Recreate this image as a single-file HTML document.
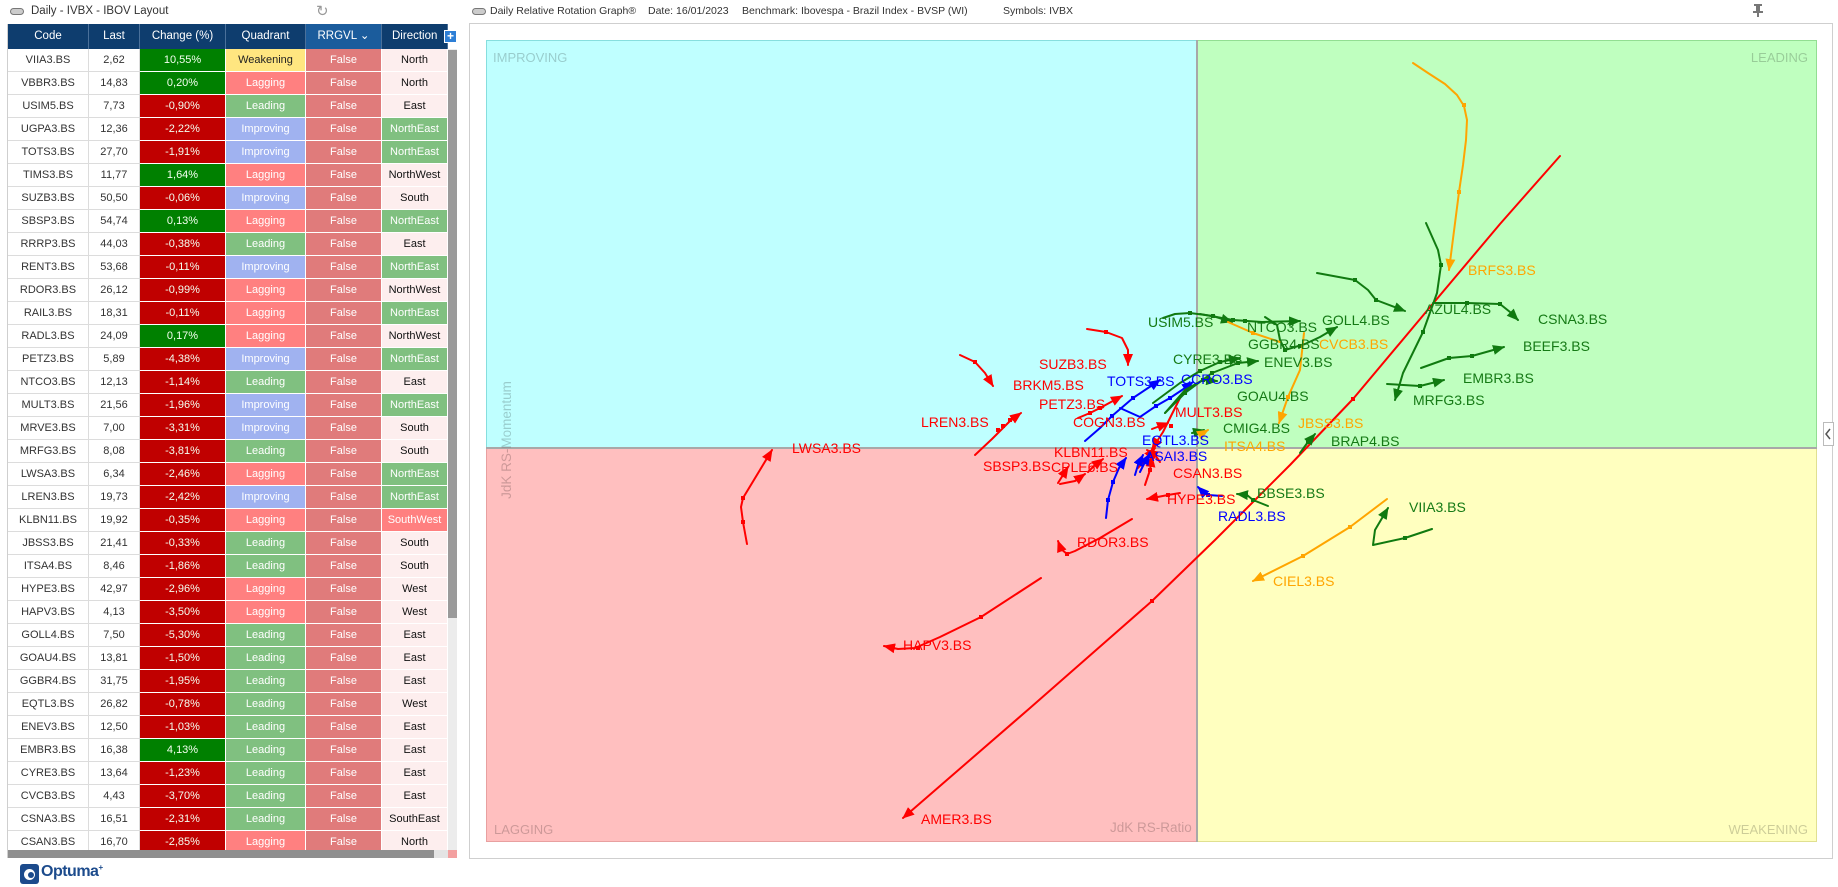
<!DOCTYPE html>
<html><head><meta charset="utf-8">
<style>
html,body{margin:0;padding:0;}
body{width:1838px;height:887px;position:relative;overflow:hidden;background:#fff;font-family:"Liberation Sans",sans-serif;color:#333;}
.abs{position:absolute;}
#tbl{position:absolute;left:7px;top:24px;width:450px;height:834px;overflow:hidden;background:#fff;border-left:1px solid #cfcfcf;box-sizing:border-box;}
.r{position:absolute;left:0;height:23px;display:flex;}
.c{box-sizing:border-box;height:23px;line-height:22px;text-align:center;font-size:11px;border-right:1px solid #fff;border-bottom:1px solid #fff;white-space:nowrap;overflow:hidden;flex:none;}
.a{width:81px;background:#fff;color:#333;border-right:1px solid #dcdcdc;border-bottom:1px solid #dcdcdc;}
.b{width:51px;background:#fff;color:#333;border-right:1px solid #dcdcdc;border-bottom:1px solid #dcdcdc;}
.x{width:86px;color:#f4fff0;}
.g{background:#008000;}
.n{background:#c00000;}
.q{width:80px;color:#fff;}
.qw{background:#ffe680;color:#222;}
.ql{background:#ff8080;}
.qd{background:#80c080;}
.qi{background:#a0b2f0;}
.f{width:76px;background:#e07b7b;color:#fff;}
.d{width:66px;background:#fdeeee;color:#111;}
.ne{background:#80c080;color:#fff;}
.sw{background:#ff8080;color:#fff;}
.h .c{height:25px;line-height:25px;background:#0e3d6e;color:#fff;border-right:1px solid #4a709a;border-bottom:none;font-size:11.5px;}
.h .rv{background:#1b5c9c;}
</style></head>
<body>

<!-- left panel title -->
<div class="abs" style="left:10px;top:8px;width:14px;height:7px;border:1px solid #777;border-radius:4px;background:#ccc;box-sizing:border-box;"></div>
<div class="abs" style="left:31px;top:5px;font-size:11.5px;color:#333;">Daily - IVBX - IBOV Layout</div>
<div class="abs" style="left:316px;top:2px;font-size:15px;color:#999;">↻</div>

<div id="tbl">
<div class="r h" style="top:0;height:25px;"><div class="c a">Code</div><div class="c b">Last</div><div class="c x">Change (%)</div><div class="c q">Quadrant</div><div class="c f rv">RRGVL &#8964;</div><div class="c d" style="text-align:left;padding-left:10px;">Direction</div></div>
<div class="r" style="top:25px"><div class="c a">VIIA3.BS</div><div class="c b">2,62</div><div class="c x g">10,55%</div><div class="c q qw">Weakening</div><div class="c f">False</div><div class="c d">North</div></div>
<div class="r" style="top:48px"><div class="c a">VBBR3.BS</div><div class="c b">14,83</div><div class="c x g">0,20%</div><div class="c q ql">Lagging</div><div class="c f">False</div><div class="c d">North</div></div>
<div class="r" style="top:71px"><div class="c a">USIM5.BS</div><div class="c b">7,73</div><div class="c x n">-0,90%</div><div class="c q qd">Leading</div><div class="c f">False</div><div class="c d">East</div></div>
<div class="r" style="top:94px"><div class="c a">UGPA3.BS</div><div class="c b">12,36</div><div class="c x n">-2,22%</div><div class="c q qi">Improving</div><div class="c f">False</div><div class="c d ne">NorthEast</div></div>
<div class="r" style="top:117px"><div class="c a">TOTS3.BS</div><div class="c b">27,70</div><div class="c x n">-1,91%</div><div class="c q qi">Improving</div><div class="c f">False</div><div class="c d ne">NorthEast</div></div>
<div class="r" style="top:140px"><div class="c a">TIMS3.BS</div><div class="c b">11,77</div><div class="c x g">1,64%</div><div class="c q ql">Lagging</div><div class="c f">False</div><div class="c d">NorthWest</div></div>
<div class="r" style="top:163px"><div class="c a">SUZB3.BS</div><div class="c b">50,50</div><div class="c x n">-0,06%</div><div class="c q qi">Improving</div><div class="c f">False</div><div class="c d">South</div></div>
<div class="r" style="top:186px"><div class="c a">SBSP3.BS</div><div class="c b">54,74</div><div class="c x g">0,13%</div><div class="c q ql">Lagging</div><div class="c f">False</div><div class="c d ne">NorthEast</div></div>
<div class="r" style="top:209px"><div class="c a">RRRP3.BS</div><div class="c b">44,03</div><div class="c x n">-0,38%</div><div class="c q qd">Leading</div><div class="c f">False</div><div class="c d">East</div></div>
<div class="r" style="top:232px"><div class="c a">RENT3.BS</div><div class="c b">53,68</div><div class="c x n">-0,11%</div><div class="c q qi">Improving</div><div class="c f">False</div><div class="c d ne">NorthEast</div></div>
<div class="r" style="top:255px"><div class="c a">RDOR3.BS</div><div class="c b">26,12</div><div class="c x n">-0,99%</div><div class="c q ql">Lagging</div><div class="c f">False</div><div class="c d">NorthWest</div></div>
<div class="r" style="top:278px"><div class="c a">RAIL3.BS</div><div class="c b">18,31</div><div class="c x n">-0,11%</div><div class="c q ql">Lagging</div><div class="c f">False</div><div class="c d ne">NorthEast</div></div>
<div class="r" style="top:301px"><div class="c a">RADL3.BS</div><div class="c b">24,09</div><div class="c x g">0,17%</div><div class="c q ql">Lagging</div><div class="c f">False</div><div class="c d">NorthWest</div></div>
<div class="r" style="top:324px"><div class="c a">PETZ3.BS</div><div class="c b">5,89</div><div class="c x n">-4,38%</div><div class="c q qi">Improving</div><div class="c f">False</div><div class="c d ne">NorthEast</div></div>
<div class="r" style="top:347px"><div class="c a">NTCO3.BS</div><div class="c b">12,13</div><div class="c x n">-1,14%</div><div class="c q qd">Leading</div><div class="c f">False</div><div class="c d">East</div></div>
<div class="r" style="top:370px"><div class="c a">MULT3.BS</div><div class="c b">21,56</div><div class="c x n">-1,96%</div><div class="c q qi">Improving</div><div class="c f">False</div><div class="c d ne">NorthEast</div></div>
<div class="r" style="top:393px"><div class="c a">MRVE3.BS</div><div class="c b">7,00</div><div class="c x n">-3,31%</div><div class="c q qi">Improving</div><div class="c f">False</div><div class="c d">South</div></div>
<div class="r" style="top:416px"><div class="c a">MRFG3.BS</div><div class="c b">8,08</div><div class="c x n">-3,81%</div><div class="c q qd">Leading</div><div class="c f">False</div><div class="c d">South</div></div>
<div class="r" style="top:439px"><div class="c a">LWSA3.BS</div><div class="c b">6,34</div><div class="c x n">-2,46%</div><div class="c q ql">Lagging</div><div class="c f">False</div><div class="c d ne">NorthEast</div></div>
<div class="r" style="top:462px"><div class="c a">LREN3.BS</div><div class="c b">19,73</div><div class="c x n">-2,42%</div><div class="c q qi">Improving</div><div class="c f">False</div><div class="c d ne">NorthEast</div></div>
<div class="r" style="top:485px"><div class="c a">KLBN11.BS</div><div class="c b">19,92</div><div class="c x n">-0,35%</div><div class="c q ql">Lagging</div><div class="c f">False</div><div class="c d sw">SouthWest</div></div>
<div class="r" style="top:508px"><div class="c a">JBSS3.BS</div><div class="c b">21,41</div><div class="c x n">-0,33%</div><div class="c q qd">Leading</div><div class="c f">False</div><div class="c d">South</div></div>
<div class="r" style="top:531px"><div class="c a">ITSA4.BS</div><div class="c b">8,46</div><div class="c x n">-1,86%</div><div class="c q qd">Leading</div><div class="c f">False</div><div class="c d">South</div></div>
<div class="r" style="top:554px"><div class="c a">HYPE3.BS</div><div class="c b">42,97</div><div class="c x n">-2,96%</div><div class="c q ql">Lagging</div><div class="c f">False</div><div class="c d">West</div></div>
<div class="r" style="top:577px"><div class="c a">HAPV3.BS</div><div class="c b">4,13</div><div class="c x n">-3,50%</div><div class="c q ql">Lagging</div><div class="c f">False</div><div class="c d">West</div></div>
<div class="r" style="top:600px"><div class="c a">GOLL4.BS</div><div class="c b">7,50</div><div class="c x n">-5,30%</div><div class="c q qd">Leading</div><div class="c f">False</div><div class="c d">East</div></div>
<div class="r" style="top:623px"><div class="c a">GOAU4.BS</div><div class="c b">13,81</div><div class="c x n">-1,50%</div><div class="c q qd">Leading</div><div class="c f">False</div><div class="c d">East</div></div>
<div class="r" style="top:646px"><div class="c a">GGBR4.BS</div><div class="c b">31,75</div><div class="c x n">-1,95%</div><div class="c q qd">Leading</div><div class="c f">False</div><div class="c d">East</div></div>
<div class="r" style="top:669px"><div class="c a">EQTL3.BS</div><div class="c b">26,82</div><div class="c x n">-0,78%</div><div class="c q qd">Leading</div><div class="c f">False</div><div class="c d">West</div></div>
<div class="r" style="top:692px"><div class="c a">ENEV3.BS</div><div class="c b">12,50</div><div class="c x n">-1,03%</div><div class="c q qd">Leading</div><div class="c f">False</div><div class="c d">East</div></div>
<div class="r" style="top:715px"><div class="c a">EMBR3.BS</div><div class="c b">16,38</div><div class="c x g">4,13%</div><div class="c q qd">Leading</div><div class="c f">False</div><div class="c d">East</div></div>
<div class="r" style="top:738px"><div class="c a">CYRE3.BS</div><div class="c b">13,64</div><div class="c x n">-1,23%</div><div class="c q qd">Leading</div><div class="c f">False</div><div class="c d">East</div></div>
<div class="r" style="top:761px"><div class="c a">CVCB3.BS</div><div class="c b">4,43</div><div class="c x n">-3,70%</div><div class="c q qd">Leading</div><div class="c f">False</div><div class="c d">East</div></div>
<div class="r" style="top:784px"><div class="c a">CSNA3.BS</div><div class="c b">16,51</div><div class="c x n">-2,31%</div><div class="c q qd">Leading</div><div class="c f">False</div><div class="c d">SouthEast</div></div>
<div class="r" style="top:807px"><div class="c a">CSAN3.BS</div><div class="c b">16,70</div><div class="c x n">-2,85%</div><div class="c q ql">Lagging</div><div class="c f">False</div><div class="c d">North</div></div>
<!-- plus box -->
<div class="abs" style="left:436px;top:6px;width:11px;height:11px;background:#2d7fd6;border:1px solid #fff;color:#fff;font-size:12px;line-height:10px;text-align:center;font-weight:bold;">+</div>
<!-- vertical scrollbar -->
<div class="abs" style="left:440px;top:25px;width:10px;height:801px;background:#ececec;"></div>
<div class="abs" style="left:440px;top:26px;width:9px;height:568px;background:#9a9a9a;"></div>
<!-- horizontal scrollbar -->
<div class="abs" style="left:0;top:826px;width:450px;height:8px;background:#e4e4e4;"></div>
<div class="abs" style="left:0;top:826px;width:426px;height:8px;background:#8f8f8f;"></div>
<div class="abs" style="left:440px;top:826px;width:10px;height:8px;background:#f3a0a0;"></div>
</div>

<!-- Optuma logo -->
<div class="abs" style="left:20px;top:864px;width:19px;height:20px;background:#1c4b8c;border-radius:3px;"></div>
<div class="abs" style="left:24px;top:869px;width:11px;height:11px;border-radius:50%;background:#fff;"></div>
<div class="abs" style="left:28px;top:872px;width:6px;height:6px;border-radius:50%;background:#1c4b8c;"></div>
<div class="abs" style="left:41px;top:863px;font-size:16px;font-weight:bold;color:#1c4b8c;letter-spacing:-0.5px;">Optuma<span style="font-size:8px;vertical-align:top;">+</span></div>

<!-- chart title -->
<div class="abs" style="left:472px;top:8px;width:14px;height:7px;border:1px solid #777;border-radius:4px;background:#ccc;box-sizing:border-box;"></div>
<div class="abs" style="left:490px;top:5px;font-size:10.5px;color:#333;white-space:nowrap;">Daily Relative Rotation Graph®</div>
<div class="abs" style="left:648px;top:5px;font-size:10.5px;color:#333;white-space:nowrap;">Date: 16/01/2023</div>
<div class="abs" style="left:742px;top:5px;font-size:10.5px;color:#333;white-space:nowrap;">Benchmark: Ibovespa - Brazil Index - BVSP (WI)</div>
<div class="abs" style="left:1003px;top:5px;font-size:10.5px;color:#333;white-space:nowrap;">Symbols: IVBX</div>

<svg class="abs" style="left:0;top:0" width="1838" height="887" xmlns="http://www.w3.org/2000/svg">
<defs>
<marker id="aR" viewBox="0 0 12 10" refX="11" refY="5" markerWidth="12" markerHeight="10" markerUnits="userSpaceOnUse" orient="auto"><path d="M0,0L12,5L0,10z" fill="#ff0000"/></marker>
<marker id="aG" viewBox="0 0 12 10" refX="11" refY="5" markerWidth="12" markerHeight="10" markerUnits="userSpaceOnUse" orient="auto"><path d="M0,0L12,5L0,10z" fill="#107a10"/></marker>
<marker id="aB" viewBox="0 0 12 10" refX="11" refY="5" markerWidth="12" markerHeight="10" markerUnits="userSpaceOnUse" orient="auto"><path d="M0,0L12,5L0,10z" fill="#0000ff"/></marker>
<marker id="aO" viewBox="0 0 12 10" refX="11" refY="5" markerWidth="12" markerHeight="10" markerUnits="userSpaceOnUse" orient="auto"><path d="M0,0L12,5L0,10z" fill="#ffa500"/></marker>
</defs>
<style>
polyline{fill:none;stroke-width:2;stroke-linejoin:round;stroke-linecap:round;}
.R{stroke:#ff0000}.G{stroke:#107a10}.B{stroke:#0000ff}.O{stroke:#ffa500}
svg text{font-family:"Liberation Sans",sans-serif;font-size:14px;}
.tR{fill:#ff0000}.tG{fill:#157a15}.tB{fill:#0000ff}.tO{fill:#ffa500}
svg .qlab{font-size:13px;fill:#000;fill-opacity:0.2;}
</style>
<!-- panel border -->
<rect x="469.5" y="23.5" width="1363" height="835" fill="#fff" stroke="#cfcfcf"/>
<!-- quadrants -->
<rect x="486" y="40" width="711" height="408" fill="#bfffff"/>
<rect x="1197" y="40" width="620" height="408" fill="#bfffbf"/>
<rect x="486" y="448" width="711" height="394" fill="#ffbfbf"/>
<rect x="1197" y="448" width="620" height="394" fill="#ffffbf"/>
<path d="M486.5,448V40.5H1197" fill="none" stroke="#86dede"/>
<path d="M1197,40.5H1816.5V448" fill="none" stroke="#92de92"/>
<path d="M486.5,448V841.5H1197" fill="none" stroke="#e8a0a0"/>
<path d="M1197,841.5H1816.5V448" fill="none" stroke="#e0e090"/>
<line x1="1197" y1="40" x2="1197" y2="842" stroke="#a8a8a8" stroke-width="2"/>
<line x1="486" y1="448" x2="1817" y2="448" stroke="#a8a8a8" stroke-width="2"/>
<text class="qlab" x="493" y="62">IMPROVING</text>
<text class="qlab" x="1808" y="62" text-anchor="end">LEADING</text>
<text class="qlab" x="494" y="834">LAGGING</text>
<text class="qlab" x="1808" y="834" text-anchor="end">WEAKENING</text>
<text class="qlab" x="1110" y="832" style="font-size:13.5px">JdK RS-Ratio</text>
<text class="qlab" x="0" y="0" text-anchor="middle" transform="translate(511,440) rotate(-90)" style="font-size:13.5px">JdK RS-Momentum</text>

<!-- RED tails -->
<polyline class="R" points="1560,156 1500,224 1436,300 1353,399 1290,465 1215,540 1152,601 1030,708 903,818" marker-end="url(#aR)"/>
<polyline class="R" points="1041,578 981,617 940,637 915,648 898,649 884,646" marker-end="url(#aR)"/>
<polyline class="R" points="1132,519 1100,538 1075,551 1067,554 1061,549 1058,541" marker-end="url(#aR)"/>
<polyline class="R" points="747,544 743,522 741,507 743,498 772,450" marker-end="url(#aR)"/>
<polyline class="R" points="960,355 975,362 985,373 993,386" marker-end="url(#aR)"/>
<polyline class="R" points="975,455 992,439 1003,428 1010,421 1021,413" marker-end="url(#aR)"/>
<polyline class="R" points="1087,329 1106,332 1122,338 1128,350 1128,365" marker-end="url(#aR)"/>
<polyline class="R" points="1078,418 1090,413 1100,408 1122,396" marker-end="url(#aR)"/>
<polyline class="R" points="1152,429 1160,426 1168,423" marker-end="url(#aR)"/>
<polyline class="R" points="1187,388 1180,398 1172,414 1163,432 1152,449" marker-end="url(#aR)"/>
<polyline class="R" points="1145,485 1150,470 1152,456" marker-end="url(#aR)"/>
<polyline class="R" points="1138,468 1146,459 1155,448" marker-end="url(#aR)"/>
<polyline class="R" points="1160,462 1155,455 1147,450" marker-end="url(#aR)"/>
<polyline class="R" points="1058,483 1063,475 1068,467" marker-end="url(#aR)"/>
<polyline class="R" points="1060,484 1075,481 1085,474" marker-end="url(#aR)"/>
<polyline class="R" points="1088,472 1095,465 1103,459" marker-end="url(#aR)"/>
<polyline class="R" points="1180,493 1168,495 1147,499" marker-end="url(#aR)"/>
<g fill="#ff0000">
<rect x="1351" y="397" width="4" height="4"/><rect x="1150" y="599" width="4" height="4"/>
<rect x="979" y="615" width="4" height="4"/><rect x="916" y="646" width="4" height="4"/>
<rect x="1065" y="552" width="4" height="4"/><rect x="741" y="520" width="4" height="4"/><rect x="741" y="496" width="4" height="4"/>
<rect x="973" y="360" width="4" height="4"/><rect x="996" y="428" width="4" height="4"/><rect x="1001" y="424" width="4" height="4"/><rect x="1008" y="418" width="4" height="4"/>
<rect x="1104" y="330" width="4" height="4"/><rect x="1088" y="411" width="4" height="4"/><rect x="1098" y="406" width="4" height="4"/>
<rect x="1169" y="424" width="4" height="4"/><rect x="1166" y="493" width="4" height="4"/><rect x="1148" y="468" width="4" height="4"/>
</g>

<!-- BLUE tails -->
<polyline class="B" points="1085,441 1100,428 1112,416 1133,398 1148,388 1160,380" marker-end="url(#aB)"/>
<polyline class="B" points="1120,408 1140,417" />
<polyline class="B" points="1140,417 1156,406 1170,398 1182,390 1193,382" marker-end="url(#aB)"/>
<polyline class="B" points="1106,518 1108,500 1113,482 1119,468 1126,458" marker-end="url(#aB)"/>
<polyline class="B" points="1135,475 1138,465 1143,455" marker-end="url(#aB)"/>
<polyline class="B" points="1140,472 1145,462 1150,454" marker-end="url(#aB)"/>
<polyline class="B" points="1222,496 1208,495 1203,492 1198,487" marker-end="url(#aB)"/>
<g fill="#0000ff">
<rect x="1110" y="414" width="4" height="4"/><rect x="1131" y="396" width="4" height="4"/>
<rect x="1154" y="404" width="4" height="4"/><rect x="1168" y="396" width="4" height="4"/>
<rect x="1106" y="498" width="4" height="4"/><rect x="1111" y="480" width="4" height="4"/>
<rect x="1206" y="493" width="4" height="4"/>
</g>

<!-- GREEN tails -->
<polyline class="G" points="1163,318 1175,314 1190,313 1213,316 1232,322" marker-end="url(#aG)"/>
<polyline class="G" points="1200,314 1233,320 1262,322 1300,321" marker-end="url(#aG)"/>
<polyline class="G" points="1265,317 1277,325 1280,340 1285,350 1305,344 1320,337 1337,327" marker-end="url(#aG)"/>
<polyline class="G" points="1317,273 1355,280 1368,290 1376,300 1405,311" marker-end="url(#aG)"/>
<polyline class="G" points="1153,403 1180,383 1200,371 1220,362 1240,358" marker-end="url(#aG)"/>
<polyline class="G" points="1165,413 1185,393 1212,373 1238,363 1258,361" marker-end="url(#aG)"/>
<polyline class="G" points="1165,413 1185,390 1203,380 1217,381" marker-end="url(#aG)"/>
<polyline class="G" points="1192,433 1204,430" marker-end="url(#aG)"/>
<polyline class="G" points="1300,453 1308,442 1315,434" marker-end="url(#aG)"/>
<polyline class="G" points="1268,506 1253,500 1247,495 1237,494" marker-end="url(#aG)"/>
<polyline class="G" points="1432,529 1405,538 1373,545 1375,530 1388,508" marker-end="url(#aG)"/>
<polyline class="G" points="1426,223 1438,250 1441,265 1437,293 1423,332 1403,373 1395,400" marker-end="url(#aG)"/>
<polyline class="G" points="1433,303 1467,303 1500,304 1510,312 1518,320" marker-end="url(#aG)"/>
<polyline class="G" points="1421,368 1449,358 1472,356 1504,347" marker-end="url(#aG)"/>
<polyline class="G" points="1387,384 1420,386 1444,380" marker-end="url(#aG)"/>
<g fill="#107a10">
<rect x="1188" y="311" width="4" height="4"/><rect x="1211" y="314" width="4" height="4"/><rect x="1231" y="318" width="4" height="4"/><rect x="1243" y="319" width="4" height="4"/>
<rect x="1283" y="348" width="4" height="4"/><rect x="1298" y="344" width="4" height="4"/>
<rect x="1353" y="278" width="4" height="4"/><rect x="1374" y="298" width="4" height="4"/>
<rect x="1198" y="369" width="4" height="4"/><rect x="1218" y="360" width="4" height="4"/><rect x="1210" y="371" width="4" height="4"/><rect x="1236" y="361" width="4" height="4"/><rect x="1183" y="391" width="4" height="4"/><rect x="1201" y="378" width="4" height="4"/>
<rect x="1306" y="440" width="4" height="4"/><rect x="1251" y="498" width="4" height="4"/>
<rect x="1403" y="536" width="4" height="4"/><rect x="1439" y="263" width="4" height="4"/><rect x="1421" y="330" width="4" height="4"/>
<rect x="1465" y="301" width="4" height="4"/><rect x="1498" y="302" width="4" height="4"/>
<rect x="1447" y="356" width="4" height="4"/><rect x="1470" y="354" width="4" height="4"/><rect x="1418" y="384" width="4" height="4"/>
</g>

<!-- ORANGE tails -->
<polyline class="O" points="1413,63 1428,73 1445,84 1457,95 1464,106 1467,120 1466,140 1463,165 1459,192 1449,270" marker-end="url(#aO)"/>
<polyline class="O" points="1228,322 1253,333 1280,342"/>
<polyline class="O" points="1304,333 1300,370 1288,397 1279,423" marker-end="url(#aO)"/>
<polyline class="O" points="1203,433 1208,430" marker-end="url(#aO)"/>
<polyline class="O" points="1387,499 1350,527 1303,556 1253,581" marker-end="url(#aO)"/>
<g fill="#ffa500">
<rect x="1462" y="103" width="4" height="4"/><rect x="1457" y="190" width="4" height="4"/>
<rect x="1251" y="331" width="4" height="4"/><rect x="1286" y="395" width="4" height="4"/>
<rect x="1348" y="525" width="4" height="4"/><rect x="1301" y="554" width="4" height="4"/>
</g>

<!-- labels -->
<g class="tR">
<text x="1039" y="369">SUZB3.BS</text>
<text x="1013" y="390">BRKM5.BS</text>
<text x="1039" y="409">PETZ3.BS</text>
<text x="921" y="427">LREN3.BS</text>
<text x="1073" y="427">COGN3.BS</text>
<text x="1175" y="417">MULT3.BS</text>
<text x="1054" y="457">KLBN11.BS</text>
<text x="983" y="471">SBSP3.BS</text>
<text x="1051" y="472">CPLE6.BS</text>
<text x="1173" y="478">CSAN3.BS</text>
<text x="1167" y="504">HYPE3.BS</text>
<text x="1077" y="547">RDOR3.BS</text>
<text x="903" y="650">HAPV3.BS</text>
<text x="921" y="824">AMER3.BS</text>
<text x="792" y="453">LWSA3.BS</text>
</g>
<g class="tB">
<text x="1107" y="386">TOTS3.BS</text>
<text x="1181" y="384">CCRO3.BS</text>
<text x="1142" y="445">EQTL3.BS</text>
<text x="1145" y="461">ASAI3.BS</text>
<text x="1218" y="521">RADL3.BS</text>
</g>
<g class="tG">
<text x="1148" y="327">USIM5.BS</text>
<text x="1247" y="332">NTCO3.BS</text>
<text x="1322" y="325">GOLL4.BS</text>
<text x="1248" y="349">GGBR4.BS</text>
<text x="1173" y="364">CYRE3.BS</text>
<text x="1264" y="367">ENEV3.BS</text>
<text x="1237" y="401">GOAU4.BS</text>
<text x="1223" y="433">CMIG4.BS</text>
<text x="1331" y="446">BRAP4.BS</text>
<text x="1257" y="498">BBSE3.BS</text>
<text x="1409" y="512">VIIA3.BS</text>
<text x="1425" y="314">AZUL4.BS</text>
<text x="1538" y="324">CSNA3.BS</text>
<text x="1523" y="351">BEEF3.BS</text>
<text x="1463" y="383">EMBR3.BS</text>
<text x="1413" y="405">MRFG3.BS</text>
</g>
<g class="tO">
<text x="1468" y="275">BRFS3.BS</text>
<text x="1319" y="349">CVCB3.BS</text>
<text x="1298" y="428">JBSS3.BS</text>
<text x="1224" y="451">ITSA4.BS</text>
<text x="1273" y="586">CIEL3.BS</text>
</g>

<!-- pin icon -->
<g fill="#777">
<rect x="1754" y="4" width="8" height="2"/>
<rect x="1756" y="6" width="4" height="5"/>
<rect x="1753" y="11" width="10" height="2"/>
<rect x="1757" y="13" width="2" height="4"/>
</g>
<!-- right tab -->
<rect x="1823.5" y="422.5" width="10" height="23" fill="#fff" stroke="#bbb"/>
<path d="M1830,429L1826,434L1830,439" fill="none" stroke="#555" stroke-width="1.5"/>
</svg>
</body></html>
